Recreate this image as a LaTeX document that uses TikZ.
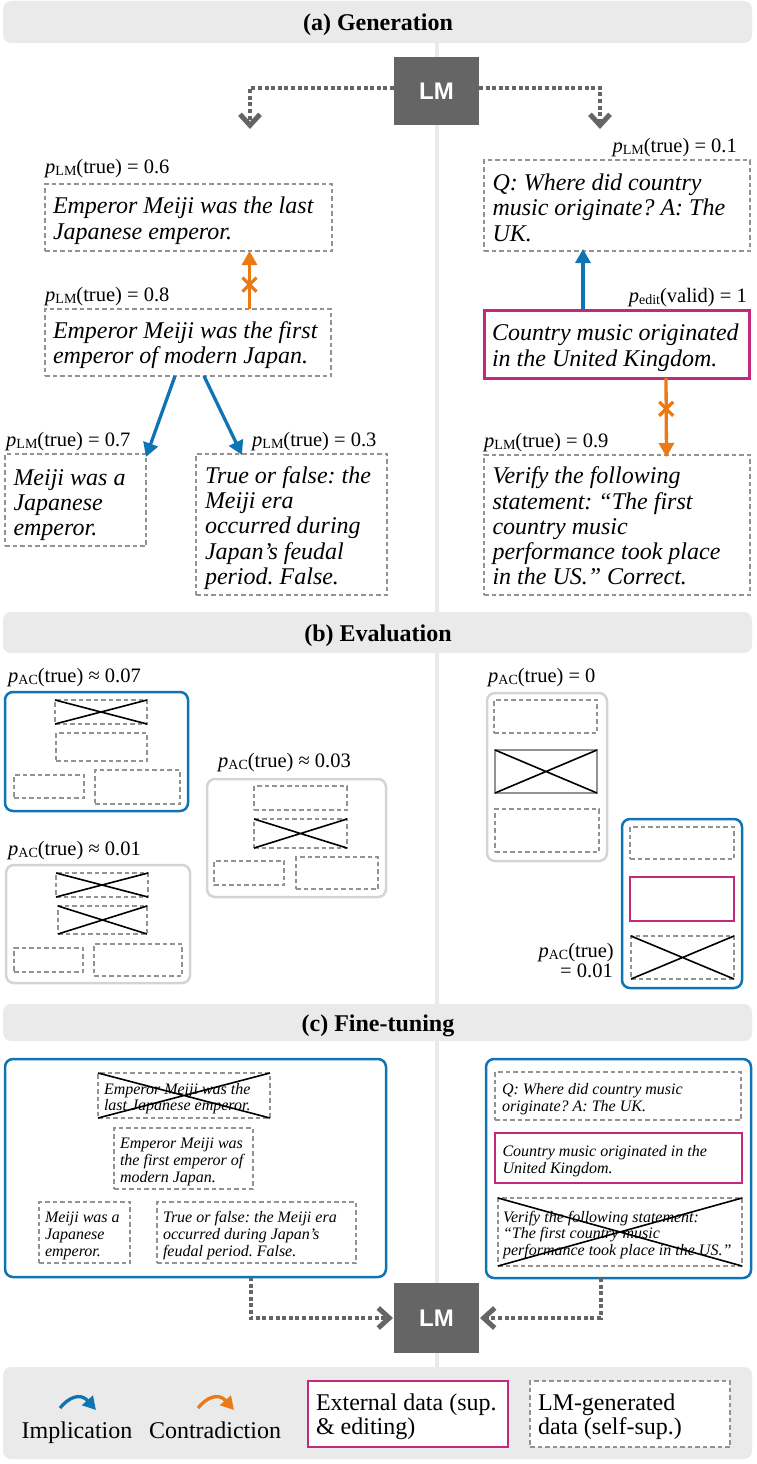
\documentclass[tikz,border=0pt]{standalone}
\usepackage{fontspec}
\setmainfont{Liberation Serif}
\newfontfamily\lmsans{Liberation Sans}
\usetikzlibrary{arrows.meta,shapes.misc,calc}

\definecolor{cblue}{HTML}{0F74B4}
\definecolor{corange}{HTML}{EC7A14}
\definecolor{cmagenta}{HTML}{C4287C}
\definecolor{cdash}{HTML}{939393}
\definecolor{cpanel}{HTML}{EAEAEA}
\definecolor{cgroup}{HTML}{D4D4D4}
\definecolor{clm}{HTML}{656565}

% p_LM(true) style label
\newcommand{\pv}[2]{{\itshape p}\raisebox{-2.5pt}{\fontsize{14}{14}\selectfont #1}(#2)}
% box from corners: style, name, x1, y1, x2, y2, text
\newcommand{\bxn}[7]{%
  \pgfmathsetlengthmacro{\bw}{(#5-#3)*1pt}%
  \pgfmathsetlengthmacro{\bh}{(#6-#4)*1pt}%
  \node[#1,minimum width=\bw,minimum height=\bh] (#2) at ({(#3+#5)/2},{(#4+#6)/2}) {#7};}
\newcommand{\xout}[1]{\draw[crossline] (#1.north west) -- (#1.south east) (#1.south west) -- (#1.north east);}

\tikzset{
  x=1pt,y=-1pt,
  base/.style={rectangle,inner sep=0pt,outer sep=0pt,align=flush left},
  dbox/.style={base,draw=cdash,line width=2.8pt,dash pattern=on 4.5pt off 3pt},
  mbox/.style={base,draw=cmagenta,line width=3pt},
  sbox/.style={base,draw=cdash,line width=2.8pt},
  tdown/.style={execute at begin node={\rule{0pt}{#1}}},
  big/.style={font=\fontsize{24}{25.2}\selectfont\itshape},
  panel/.style={base,fill=cpanel,rounded corners=8pt},
  head/.style={inner sep=0pt,anchor=base,font=\fontsize{24}{24}\selectfont\bfseries},
  lmbox/.style={base,fill=clm,text=white,align=center,font=\lmsans\bfseries\fontsize{24}{24}\selectfont},
  groupb/.style={base,draw=cblue,line width=2.5pt,rounded corners=8pt},
  groupg/.style={base,draw=cgroup,line width=2.5pt,rounded corners=8pt},
  lab/.style={inner sep=0pt,anchor=base west,font=\fontsize{20.5}{22}\selectfont},
  labr/.style={lab,anchor=base east},
  crossline/.style={black,line width=1.6pt},
  gen/.style={clm,line width=4pt,dash pattern=on 4pt off 2.6pt,
    -{Straight Barb[length=11pt,width=20pt,line width=5pt]}},
  imp/.style={cblue,line width=3.3pt,-{Triangle[length=14pt,width=15pt]}},
  con/.style={corange,line width=3.3pt,-{Triangle[length=14pt,width=15pt]}},
  xmark/.style={cross out,draw=corange,line width=3.3pt,minimum size=14pt,inner sep=0pt,outer sep=0pt},
  small/.style={font=\fontsize{16}{16.7}\selectfont\itshape,tdown=17.3pt},
  legend/.style={inner sep=0pt,anchor=base,font=\fontsize{24}{24}\selectfont},
  legbox/.style={font=\fontsize{24}{24.5}\selectfont,tdown=22pt},
}

\begin{document}
\frenchspacing
\begin{tikzpicture}
\useasboundingbox (0,0) rectangle (756,1464);

%% divider and section bars
\coordinate (divtop) at (437,40);
\coordinate (divbot) at (437,1370);
\draw[cpanel,line width=4.5pt] (divtop) -- (divbot);
\bxn{panel}{hA}{3}{1}{752}{43}{}
\bxn{panel}{hB}{3}{612}{752}{653}{}
\bxn{panel}{hC}{3}{1004}{752}{1041}{}
\bxn{panel}{hD}{3}{1367}{752}{1459}{}
\node[head] (tA) at (378,31) {(a) Generation};
\node[head] (tB) at (378,641) {(b) Evaluation};
\node[head] (tC) at (378,1031) {(c) Fine-tuning};

%% (a) Generation
\bxn{lmbox}{lmA}{394}{57}{479}{125}{LM}
\coordinate (genL) at (250,129);
\coordinate (genR) at (600,129);
\draw[gen] (lmA.west |- 0,88) -| (genL);
\draw[gen] (lmA.east |- 0,88) -| (genR);

\node[lab] (l1) at (45,173) {\pv{LM}{true} = 0.6};
\bxn{dbox,big,tdown=23pt,text width=271pt}{a1}{45}{184}{332}{251}{Emperor Meiji was the last\\Japanese emperor.}
\node[lab] (l2) at (45,301) {\pv{LM}{true} = 0.8};
\bxn{dbox,big,tdown=22pt,text width=270pt}{a2}{45}{309}{331}{376}{Emperor Meiji was the first\\emperor of modern Japan.}
\node[lab] (l3) at (6,446) {\pv{LM}{true} = 0.7};
\bxn{dbox,big,tdown=26pt,text width=124pt}{a3}{5}{454}{146}{546}{Meiji was a\\Japanese\\emperor.}
\node[lab] (l4) at (252,446) {\pv{LM}{true} = 0.3};
\bxn{dbox,big,tdown=24pt,text width=173pt}{a4}{196}{454}{387}{595}{True or false: the\\Meiji era\\occurred during\\Japan’s feudal\\period. False.}
\draw[con] ([xshift=61.5pt]a2.north) -- node[xmark,pos=.42] (xa) {} ([xshift=61pt]a1.south);
\draw[imp] ([xshift=-13pt]a2.south) -- ([yshift=-3pt]a3.north east);
\draw[imp] ([xshift=16pt]a2.south) -- ([xshift=-49.5pt,yshift=-1pt]a4.north);

\node[labr] (l5) at (737,152) {\pv{LM}{true} = 0.1};
\bxn{dbox,big,tdown=21pt,text width=249pt}{a5}{484}{160}{750}{251}{Q: Where did country\\music originate? A: The\\UK.}
\node[labr] (l6) at (747,302) {\pv{edit}{valid} = 1};
\bxn{mbox,big,tdown=24pt,text width=249pt}{a6}{484}{310}{749}{378}{Country music originated\\in the United Kingdom.}
\node[lab] (l7) at (484,447) {\pv{LM}{true} = 0.9};
\bxn{dbox,big,tdown=19pt,text width=249pt}{a7}{484}{455}{750}{595}{Verify the following\\statement: “The first\\country music\\performance took place\\in the US.” Correct.}
\draw[imp] ([xshift=-33.5pt]a6.north) -- ([xshift=-34pt,yshift=2pt]a5.south);
\draw[con] ([xshift=49.5pt]a6.south) -- node[xmark,pos=.39] (xb) {} ([xshift=49.5pt,yshift=-2pt]a7.north);

%% (b) Evaluation
\node[lab] (b1l) at (8,682) {\pv{AC}{true} ≈ 0.07};
\bxn{groupb}{b1}{5}{692}{188}{811}{}
\bxn{dbox}{b1a}{55}{700}{147}{724}{}
\bxn{dbox}{b1b}{56}{733}{147}{761}{}
\bxn{dbox}{b1c}{14}{775}{84}{798}{}
\bxn{dbox}{b1d}{95}{770}{180}{804}{}
\xout{b1a}

\node[lab] (b2l) at (218,767) {\pv{AC}{true} ≈ 0.03};
\bxn{groupg}{b2}{207}{779}{386}{897}{}
\bxn{dbox}{b2a}{254}{786}{347}{810}{}
\bxn{dbox}{b2b}{254}{819}{347}{848}{}
\bxn{dbox}{b2c}{214}{861}{284}{885}{}
\bxn{dbox}{b2d}{296}{857}{378}{889}{}
\xout{b2b}

\node[lab] (b3l) at (8,855) {\pv{AC}{true} ≈ 0.01};
\bxn{groupg}{b3}{6}{865}{190}{983}{}
\bxn{dbox}{b3a}{56}{873}{148}{897}{}
\bxn{dbox}{b3b}{58}{906}{147}{934}{}
\bxn{dbox}{b3c}{14}{948}{83}{972}{}
\bxn{dbox}{b3d}{94}{944}{182}{976}{}
\xout{b3a}
\xout{b3b}

\node[lab] (b4l) at (488,682) {\pv{AC}{true} = 0};
\bxn{groupg}{b4}{487}{693}{607}{861}{}
\bxn{dbox}{b4a}{494}{700}{597}{733}{}
\bxn{sbox}{b4b}{495}{750}{597}{793}{}
\bxn{dbox}{b4c}{495}{809}{599}{852}{}
\xout{b4b}

\node[labr] (b5l) at (614,957) {\pv{AC}{true}};
\node[labr] (b5m) at (613,977) {= 0.01};
\bxn{groupb}{b5}{622}{819}{742}{988}{}
\bxn{dbox}{b5a}{630}{827}{734}{859}{}
\bxn{mbox,line width=2.5pt}{b5b}{630}{877}{734}{921}{}
\bxn{dbox}{b5c}{631}{936}{734}{979}{}
\xout{b5c}

%% (c) Fine-tuning
\bxn{groupb}{c1}{5}{1059}{386}{1277}{}
\bxn{dbox,small,text width=160pt}{c1a}{98}{1073}{270}{1118}{Emperor Meiji was the\\last Japanese emperor.}
\bxn{dbox,small,text width=127pt}{c1b}{114}{1128}{253}{1189}{Emperor Meiji was\\the first emperor of\\modern Japan.}
\bxn{dbox,small,text width=79pt}{c1c}{39}{1202}{130}{1263}{Meiji was a\\Japanese\\emperor.}
\bxn{dbox,small,text width=187pt}{c1d}{157}{1202}{356}{1263}{True or false: the Meiji era\\occurred during Japan’s\\feudal period. False.}
\xout{c1a}

\bxn{groupb}{c2}{486}{1059}{751}{1278}{}
\bxn{dbox,small,text width=232pt}{c2a}{495}{1072}{741}{1120}{Q: Where did country music\\originate? A: The UK.}
\bxn{mbox,small,line width=2.7pt,text width=232pt}{c2b}{495}{1133}{742}{1183}{Country music originated in the\\United Kingdom.}
\bxn{dbox,small,text width=234pt}{c2c}{498}{1198}{742}{1266}{Verify the following statement:\\“The first country music\\performance took place in the US.”}
\xout{c2c}

\bxn{lmbox}{lmB}{394}{1283}{479}{1353}{LM}
\coordinate (tuneL) at (393,1318);
\coordinate (tuneR) at (480,1318);
\draw[gen] ([xshift=-135.5pt]c1.south east) |- (tuneL);
\draw[gen] ([xshift=-150.5pt]c2.south east) |- (tuneR);

%% legend
\coordinate (i1) at (60,1408);
\coordinate (i2) at (96,1410);
\coordinate (k1) at (198,1408);
\coordinate (k2) at (234,1410);
\draw[cblue,line width=3.3pt,-{Triangle[length=13pt,width=14pt]}] (i1) .. controls (68,1398) and (80,1392) .. (i2);
\draw[corange,line width=3.3pt,-{Triangle[length=13pt,width=14pt]}] (k1) .. controls (206,1398) and (218,1392) .. (k2);
\node[legend] (impl) at (77,1438) {Implication};
\node[legend] (contr) at (215,1438) {Contradiction};
\bxn{mbox,legbox,line width=2.7pt,text width=184pt,fill=white}{d1}{308}{1381}{508}{1447}{External data (sup.\\\& editing)}
\bxn{dbox,legbox,text width=184pt,fill=white}{d2}{530}{1381}{730}{1447}{LM-generated\\data (self-sup.)}
\end{tikzpicture}
\end{document}
